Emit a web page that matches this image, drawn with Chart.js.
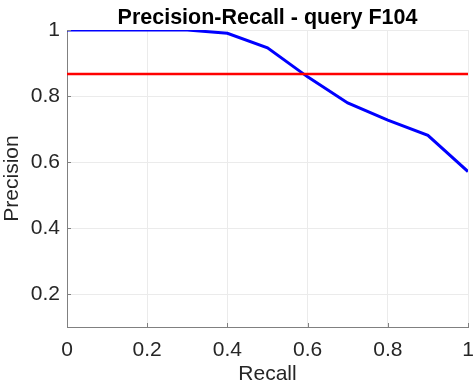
<!DOCTYPE html>
<html>
<head>
<meta charset="utf-8">
<script src="https://cdn.jsdelivr.net/npm/chart.js@4.4.0/dist/chart.umd.min.js"></script>
<style>
  html, body { margin: 0; padding: 0; background: #fff; }
  #wrap { width: 474px; height: 387px; position: relative; }
</style>
</head>
<body>
<div id="wrap"><canvas id="prChart"></canvas></div>
<script>
// Precision-recall values
const recall = [0, 0.1, 0.2, 0.3, 0.4, 0.5, 0.6, 0.7, 0.8, 0.9, 1.0];
const precision = [1, 1, 1, 1, 0.99, 0.946, 0.858, 0.779, 0.727, 0.681, 0.571];
const thresholdLevel = 0.867;
const xTicks = [0, 0.2, 0.4, 0.6, 0.8, 1];
const yTicks = [0.2, 0.4, 0.6, 0.8, 1];
const chartTitle = "Precision-Recall - query F104";

const FONT = "'Liberation Sans', Arial, Helvetica, sans-serif";
const TEXT = "#262626";

// title centered over the plot area (like MATLAB does)
const plotTitle = {
  id: "plotTitle",
  afterDraw(chart) {
    const { ctx, chartArea } = chart;
    ctx.save();
    ctx.font = "bold 21.5px " + FONT;
    ctx.fillStyle = "#000";
    ctx.textAlign = "center";
    ctx.textBaseline = "alphabetic";
    ctx.fillText(chartTitle, (chartArea.left + chartArea.right) / 2, 24);
    ctx.restore();
  }
};

// small inward tick marks
const innerTicks = {
  id: "innerTicks",
  afterDatasetsDraw(chart) {
    const { ctx, chartArea, scales } = chart;
    ctx.save();
    ctx.strokeStyle = "#808080";
    ctx.lineWidth = 1;
    ctx.beginPath();
    xTicks.forEach(v => {
      const px = Math.round(scales.x.getPixelForValue(v)) + 0.5;
      ctx.moveTo(px, chartArea.bottom);
      ctx.lineTo(px, chartArea.bottom - 4);
    });
    yTicks.forEach(v => {
      const py = Math.round(scales.y.getPixelForValue(v)) + 0.5;
      ctx.moveTo(chartArea.left, py);
      ctx.lineTo(chartArea.left + 4, py);
    });
    ctx.stroke();
    ctx.restore();
  }
};

new Chart(document.getElementById("prChart"), {
  type: "scatter",
  data: {
    datasets: [
      {
        label: "threshold",
        data: [{ x: 0, y: thresholdLevel }, { x: 1, y: thresholdLevel }],
        showLine: true,
        borderColor: "#ff0000",
        borderWidth: 2.5,
        pointRadius: 0
      },
      {
        label: "PR",
        data: recall.map((r, i) => ({ x: r, y: precision[i] })),
        showLine: true,
        borderColor: "#0000ff",
        borderWidth: 3,
        pointRadius: 0,
        tension: 0
      }
    ]
  },
  options: {
    responsive: true,
    maintainAspectRatio: false,
    animation: false,
    layout: { padding: { top: 30, right: 6, left: 0, bottom: 0 } },
    plugins: {
      legend: { display: false },
      tooltip: { enabled: false },
      title: { display: false }
    },
    scales: {
      x: {
        type: "linear",
        min: 0,
        max: 1,
        afterBuildTicks: s => { s.ticks = xTicks.map(v => ({ value: v })); },
        afterFit: s => {
          s.height = 60;
          s.paddingLeft = 0;
          s.paddingRight = 0;
        },
        grid: { color: "#ebebeb", drawTicks: false },
        border: { color: "#808080", width: 1 },
        ticks: {
          color: TEXT,
          font: { family: FONT, size: 21 },
          padding: 11,
          maxRotation: 0,
          callback: v => String(v)
        },
        title: {
          display: true,
          text: "Recall",
          color: TEXT,
          font: { family: FONT, size: 21 },
          padding: { top: 0, bottom: 0 }
        }
      },
      y: {
        type: "linear",
        min: 0.1,
        max: 1,
        afterBuildTicks: s => { s.ticks = yTicks.map(v => ({ value: v })); },
        afterFit: s => { s.width = 67; },
        grid: { color: "#ebebeb", drawTicks: false },
        border: { color: "#808080", width: 1 },
        ticks: {
          color: TEXT,
          font: { family: FONT, size: 21 },
          padding: 7,
          callback: v => String(v)
        },
        title: {
          display: true,
          text: "Precision",
          color: TEXT,
          font: { family: FONT, size: 21 },
          padding: { top: 0, bottom: 0 }
        }
      }
    }
  },
  plugins: [plotTitle, innerTicks]
});
</script>
</body>
</html>
